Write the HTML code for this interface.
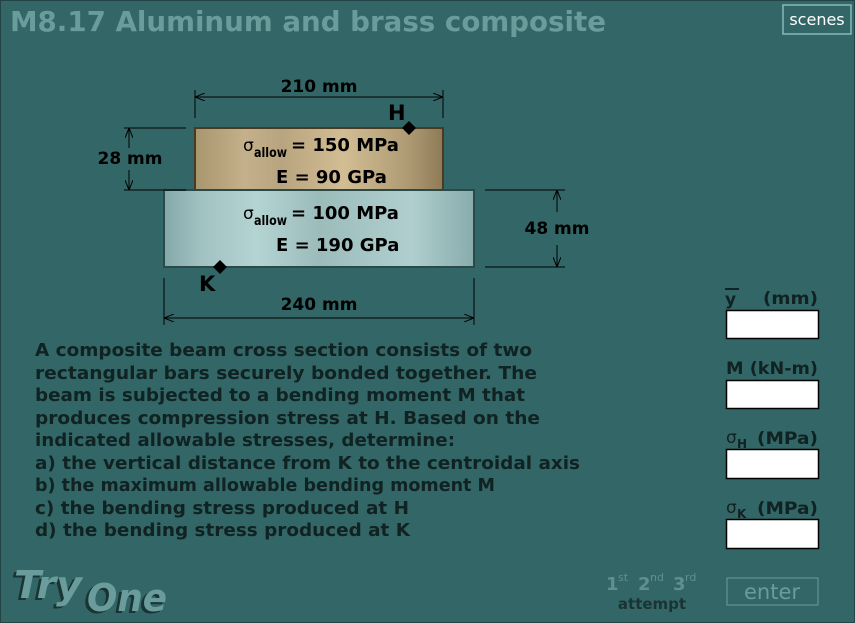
<!DOCTYPE html>
<html><head><meta charset="utf-8"><style>
html,body{margin:0;padding:0;background:#336666;}
svg{display:block;}
text{font-family:"DejaVu Sans","Liberation Sans",sans-serif;font-weight:bold;}
</style></head><body>
<svg width="855" height="623" viewBox="0 0 855 623" xmlns="http://www.w3.org/2000/svg">
<defs>
<linearGradient id="brass" x1="0" x2="1" y1="0" y2="0">
<stop offset="0" stop-color="#a8966e"/><stop offset="0.2" stop-color="#c4b08a"/><stop offset="0.35" stop-color="#b8a47e"/><stop offset="0.6" stop-color="#d2bd94"/><stop offset="0.85" stop-color="#b09c74"/><stop offset="1" stop-color="#8e7a56"/>
</linearGradient>
<linearGradient id="alu" x1="0" x2="1" y1="0" y2="0">
<stop offset="0" stop-color="#84a8a8"/><stop offset="0.12" stop-color="#a2c2c2"/><stop offset="0.3" stop-color="#b4d4d4"/><stop offset="0.5" stop-color="#9cbcbc"/><stop offset="0.8" stop-color="#b0cece"/><stop offset="1" stop-color="#88acac"/>
</linearGradient>
<marker id="ar" markerWidth="10" markerHeight="8" refX="10" refY="4" orient="auto" markerUnits="userSpaceOnUse">
<path d="M0,0 L10,4 L0,8" fill="none" stroke="#000" stroke-width="1"/></marker>
</defs>
<rect x="0.5" y="0.5" width="854" height="622" fill="#336666" stroke="#224444"/>
<text x="10" y="31" font-size="28" fill="#6a9c9c" textLength="596" lengthAdjust="spacingAndGlyphs">M8.17 Aluminum and brass composite</text>
<rect x="783" y="5" width="68" height="29" fill="none" stroke="#88bbbb" stroke-width="1.5"/>
<text x="817" y="25" font-size="16" fill="#ffffff" text-anchor="middle" style="font-weight:normal">scenes</text>

<rect x="195" y="128" width="248" height="62" fill="url(#brass)" stroke="#4a3a20" stroke-width="2"/>
<rect x="164" y="190" width="310" height="77" fill="url(#alu)" stroke="#2a4a4a" stroke-width="2"/>
<g fill="#000">
<text x="243" y="151" font-size="17" style="font-weight:normal">σ</text><text x="254" y="157" font-size="13" textLength="33" lengthAdjust="spacingAndGlyphs">allow</text>
<text x="291" y="151" font-size="18">= 150 MPa</text>
<text x="276" y="183" font-size="18">E = 90 GPa</text>
<text x="243" y="219" font-size="17" style="font-weight:normal">σ</text><text x="254" y="225" font-size="13" textLength="33" lengthAdjust="spacingAndGlyphs">allow</text>
<text x="291" y="219" font-size="18">= 100 MPa</text>
<text x="276" y="251" font-size="18">E = 190 GPa</text>
</g>
<path d="M409,121 L416,128 L409,135 L402,128Z" fill="#000"/>
<path d="M220,260 L227,267 L220,274 L213,267Z" fill="#000"/>
<text x="388" y="120" font-size="21" fill="#000">H</text>
<text x="199" y="291" font-size="21" fill="#000">K</text>

<g stroke="#000" stroke-width="1" fill="none">
<line x1="195" y1="90" x2="195" y2="118"/><line x1="443" y1="90" x2="443" y2="118"/>
<line x1="195" y1="97" x2="443" y2="97" marker-end="url(#ar)"/><line x1="443" y1="97" x2="195" y2="97" marker-end="url(#ar)"/>
<line x1="124" y1="128" x2="186" y2="128"/><line x1="124" y1="190" x2="186" y2="190"/>
<line x1="129" y1="148" x2="129" y2="128" marker-end="url(#ar)"/><line x1="129" y1="170" x2="129" y2="190" marker-end="url(#ar)"/>
<line x1="485" y1="190" x2="565" y2="190"/><line x1="485" y1="267" x2="565" y2="267"/>
<line x1="557" y1="212" x2="557" y2="190" marker-end="url(#ar)"/><line x1="557" y1="245" x2="557" y2="267" marker-end="url(#ar)"/>
<line x1="164" y1="278" x2="164" y2="325"/><line x1="474" y1="278" x2="474" y2="325"/>
<line x1="164" y1="318" x2="474" y2="318" marker-end="url(#ar)"/><line x1="474" y1="318" x2="164" y2="318" marker-end="url(#ar)"/>
</g>
<g fill="#000" font-size="17">
<text x="319" y="92" text-anchor="middle">210 mm</text>
<text x="130" y="164" text-anchor="middle">28 mm</text>
<text x="557" y="234" text-anchor="middle">48 mm</text>
<text x="319" y="310" text-anchor="middle">240 mm</text>
</g>

<g fill="#112222" font-size="18">
<text x="35" y="356" textLength="497" lengthAdjust="spacingAndGlyphs">A composite beam cross section consists of two</text>
<text x="35" y="379" textLength="502" lengthAdjust="spacingAndGlyphs">rectangular bars securely bonded together.  The</text>
<text x="35" y="401" textLength="490" lengthAdjust="spacingAndGlyphs">beam is subjected to a bending moment M that</text>
<text x="35" y="424" textLength="505" lengthAdjust="spacingAndGlyphs">produces compression stress at H.  Based on the</text>
<text x="35" y="446" textLength="420" lengthAdjust="spacingAndGlyphs">indicated allowable stresses, determine:</text>
<text x="35" y="469" textLength="545" lengthAdjust="spacingAndGlyphs">a) the vertical distance from K to the centroidal axis</text>
<text x="35" y="491" textLength="460" lengthAdjust="spacingAndGlyphs">b) the maximum allowable bending moment M</text>
<text x="35" y="514" textLength="374" lengthAdjust="spacingAndGlyphs">c) the bending stress produced at H</text>
<text x="35" y="536" textLength="375" lengthAdjust="spacingAndGlyphs">d) the bending stress produced at K</text>
</g>

<g fill="#112222" font-size="17">
<line x1="725" y1="289" x2="739" y2="289" stroke="#112222" stroke-width="2"/>
<text x="725" y="305">y</text><text x="763" y="304" textLength="55" lengthAdjust="spacingAndGlyphs">(mm)</text>
<text x="726" y="374" textLength="92" lengthAdjust="spacingAndGlyphs">M (kN-m)</text>
<text x="726" y="443" style="font-weight:normal" font-size="17">σ</text><text x="737" y="448" font-size="12">H</text><text x="757" y="444" textLength="61" lengthAdjust="spacingAndGlyphs">(MPa)</text>
<text x="726" y="513" style="font-weight:normal" font-size="17">σ</text><text x="737" y="518" font-size="12">K</text><text x="757" y="514" textLength="61" lengthAdjust="spacingAndGlyphs">(MPa)</text>
</g>
<g fill="#fff" stroke="#000" stroke-width="1.5">
<rect x="726.5" y="310.5" width="92" height="28"/>
<rect x="726.5" y="380.5" width="92" height="28"/>
<rect x="726.5" y="449.5" width="92" height="29"/>
<rect x="726.5" y="519.5" width="92" height="29"/>
</g>

<g font-style="italic" font-size="38">
<text x="11" y="600" fill="#1a3333" textLength="68" lengthAdjust="spacingAndGlyphs">Try</text>
<text x="14" y="598" fill="#6a9c9c" textLength="68" lengthAdjust="spacingAndGlyphs">Try</text>
<text x="84" y="613" fill="#1a3333" textLength="80" lengthAdjust="spacingAndGlyphs">One</text>
<text x="87" y="611" fill="#6a9c9c" textLength="80" lengthAdjust="spacingAndGlyphs">One</text>
</g>
<g fill="#5f9090">
<text x="606" y="590" font-size="18">1</text><text x="618" y="581" font-size="11" style="font-weight:normal">st</text>
<text x="638" y="590" font-size="18">2</text><text x="650" y="581" font-size="11" style="font-weight:normal">nd</text>
<text x="673" y="590" font-size="18">3</text><text x="685" y="581" font-size="11" style="font-weight:normal">rd</text>
</g>
<text x="652" y="609" font-size="15" fill="#1a3333" text-anchor="middle">attempt</text>
<rect x="727" y="578" width="91" height="27" fill="none" stroke="#6a9c9c" stroke-width="1"/>
<text x="772" y="599" font-size="21" fill="#6a9c9c" text-anchor="middle" style="font-weight:normal">enter</text>
</svg>
</body></html>
